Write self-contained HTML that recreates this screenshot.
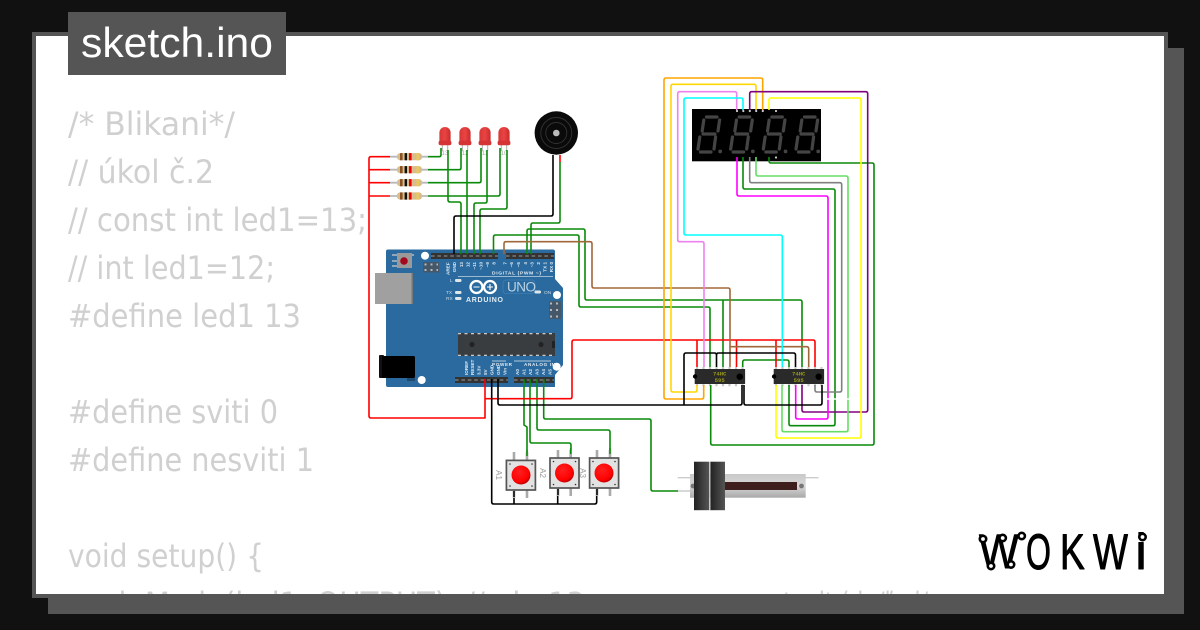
<!DOCTYPE html>
<html lang="en"><head><meta charset="utf-8"><title>sketch.ino</title>
<style>html,body{margin:0;padding:0;background:#111}svg{display:block}</style></head>
<body>
<svg xmlns="http://www.w3.org/2000/svg" width="1200" height="630" viewBox="0 0 1200 630">
<defs>
<clipPath id="c"><rect x="36" y="36" width="1128" height="558"/></clipPath>
<linearGradient id="pot" x1="0" y1="0" x2="0" y2="1"><stop offset="0" stop-color="#c8c8c8"/><stop offset=".5" stop-color="#d8d8d8"/><stop offset="1" stop-color="#a8a8a8"/></linearGradient>
<linearGradient id="h" x1="0" y1="0" x2="1" y2="0"><stop offset="0" stop-color="#222"/><stop offset="1" stop-color="#555"/></linearGradient>
<radialGradient id="btn" cx=".4" cy=".35" r=".7"><stop offset="0" stop-color="#ff2020"/><stop offset=".75" stop-color="#f00"/><stop offset="1" stop-color="#a00"/></radialGradient>
<linearGradient id="led" x1="0" y1="0" x2="1" y2="0"><stop offset="0" stop-color="#d93636"/><stop offset=".5" stop-color="#e84444"/><stop offset="1" stop-color="#cc2a2a"/></linearGradient>
<g id="dig" fill="none" stroke="#444" stroke-width="3.2" stroke-linecap="round">
<path d="M706.5 117H717M703.8 120L702.2 131M719.6 120L718 131M703 134H715M699.8 137L698 149M715.6 137L714 149M700.5 152H711"/>
<rect x="718.4" y="149.6" width="3.6" height="3.6" rx="1.2" fill="#444" stroke="none"/>
</g>
<g id="res">
<path d="M390 0H428" stroke="#b8b8b8" stroke-width="1.8"/>
<rect x="397" y="-3.6" width="25" height="7.2" rx="3" fill="#d8bd8e"/>
<rect x="400" y="-3.6" width="2.6" height="7.2" fill="#8a5224"/>
<rect x="404.6" y="-3.6" width="2.4" height="7.2" fill="#111"/>
<rect x="409" y="-3.6" width="2.6" height="7.2" fill="#e00"/>
<rect x="416.4" y="-3.6" width="2.6" height="7.2" fill="#e8c860"/>
</g>
<g id="ledg">
<path d="M-2.6 17V24M2.6 17V24" stroke="#bbb" stroke-width="1.3" fill="none"/>
<path d="M-5.6 17V5.6A5.6 5.6 0 0 1 5.6 5.6V17Z" fill="url(#led)"/>
<rect x="-6.4" y="13.6" width="12.8" height="4.6" rx="2" fill="#d63434"/>
</g>
<g id="chip">
<rect x="0" y="0" width="50.4" height="15" fill="#2a2a2a"/>
<path d="M2.3 -2V0M8.8 -2V0M15.3 -2V0M21.8 -2V0M28.3 -2V0M34.8 -2V0M41.3 -2V0M47.8 -2V0" stroke="#c8c8c8" stroke-width="2.2"/>
<path d="M2.3 15V17.2M8.8 15V17.2M15.3 15V17.2M21.8 15V17.2M28.3 15V17.2M34.8 15V17.2M41.3 15V17.2M47.8 15V17.2" stroke="#c8c8c8" stroke-width="2.2"/>
<circle cx="45" cy="7.7" r="3.2" fill="#000"/><circle cx="0.4" cy="7.5" r="2.2" fill="#000"/>
<text x="25" y="6.6" font-size="5.6" font-weight="bold" text-anchor="middle" fill="#9a9a18" font-family="Liberation Mono, monospace">74HC</text>
<text x="25" y="12.8" font-size="5.6" font-weight="bold" text-anchor="middle" fill="#9a9a18" font-family="Liberation Mono, monospace">595</text>
</g>
</defs>

<rect width="1200" height="630" fill="#111"/>
<rect x="48" y="48" width="1136" height="566" fill="#555"/>
<rect x="32" y="32" width="1136" height="566" fill="#555"/>
<rect x="36" y="36" width="1128" height="558" fill="#fff"/>

<g clip-path="url(#c)" fill="#d0d0d0" font-family="DejaVu Sans, Liberation Sans, sans-serif" font-size="32">
<text x="68" y="135" textLength="167" lengthAdjust="spacingAndGlyphs">/* Blikani*/</text>
<text x="68" y="183" textLength="146" lengthAdjust="spacingAndGlyphs">// úkol č.2</text>
<text x="68" y="231" textLength="299" lengthAdjust="spacingAndGlyphs">// const int led1=13;</text>
<text x="68" y="279" textLength="207" lengthAdjust="spacingAndGlyphs">// int led1=12;</text>
<text x="68" y="327" textLength="233" lengthAdjust="spacingAndGlyphs">#define led1 13</text>
<text x="68" y="423" textLength="210" lengthAdjust="spacingAndGlyphs">#define sviti 0</text>
<text x="68" y="471" textLength="246" lengthAdjust="spacingAndGlyphs">#define nesviti 1</text>
<text x="68" y="567" textLength="196" lengthAdjust="spacingAndGlyphs">void setup() {</text>
<text x="100" y="615" textLength="485" lengthAdjust="spacingAndGlyphs">pinMode(led1, OUTPUT);  // pin 13</text>
<text x="744" y="615" textLength="184" lengthAdjust="spacingAndGlyphs">nastavit (do/ľed/</text>
</g>

<rect x="68" y="12" width="218" height="63" fill="#555"/>
<text x="81" y="57" fill="#fff" font-family="Liberation Sans, sans-serif" font-size="42" textLength="192" lengthAdjust="spacingAndGlyphs">sketch.ino</text>

<!-- Arduino board -->
<path d="M388 249.5H553Q555 249.5 555 251.5V279L563 288V365L555 375V387H388Q386 387 386 385V251.5Q386 249.5 388 249.5Z" fill="#2a6a9e"/>
<rect x="375" y="273" width="38" height="31" fill="#a0a0a0"/><rect x="411.5" y="273" width="1.5" height="31" fill="#777"/>
<rect x="379" y="355" width="5" height="23" rx="1" fill="#111"/><rect x="382" y="356" width="33" height="22" rx="1.5" fill="#000"/><rect x="407" y="378" width="8" height="3" fill="#1d4a6e"/>
<rect x="397" y="253" width="15" height="15" fill="#9a9a9a"/><circle cx="404" cy="261" r="3.8" fill="#a5081c"/>
<path d="M392 255H397M392 261H397M392 266H397M412 255H414" stroke="#ccc" stroke-width="1.3"/>
<g fill="#fff"><circle cx="425" cy="255.7" r="4"/><circle cx="557" cy="295" r="4"/><circle cx="556.7" cy="366.7" r="4"/><circle cx="421.7" cy="380" r="4"/></g>
<g fill="#333"><rect x="431" y="253" width="67" height="6"/><rect x="506" y="253" width="48" height="6"/><rect x="455" y="377" width="53" height="6"/><rect x="514" y="377" width="40" height="6"/></g>
<path d="M431 256H498M506 256H554M455 380H508M514 380H554" stroke="#666" stroke-width="2" stroke-dasharray="3.6 2.8"/>
<g fill="#44586a"><rect x="423" y="262" width="16" height="10.5"/><rect x="549" y="301" width="12" height="18"/></g>
<path d="M424.5 264.5H438M424.5 270H438M550 303.5H560M550 310H560M550 316.5H560" stroke="#b9b9b9" stroke-width="2" stroke-dasharray="2 4"/>
<rect x="458" y="333" width="97" height="23" fill="#3a3d40"/>
<path d="M458 333.7H555M458 355.3H555" stroke="#ddd" stroke-width="1.1" stroke-dasharray="3 3.5"/>
<circle cx="472" cy="344.5" r="2.6" fill="#222"/><circle cx="541" cy="344.5" r="2.6" fill="#222"/><rect x="552" y="341" width="3" height="7" fill="#222"/>
<path d="M458 276.7H553M492 361H506M514 361H551" stroke="#dfe9f2" stroke-width=".7" fill="none"/>
<rect x="503" y="280" width="32" height="13.5" rx="3" fill="none" stroke="#3f7fb2" stroke-width=".8"/>
<text x="507" y="291.5" font-family="Liberation Sans, sans-serif" font-size="13.5" fill="#b9d2e6" textLength="29">UNO</text>
<g fill="none" stroke="#fff" stroke-width="2.3"><circle cx="476.5" cy="287" r="6"/><circle cx="490" cy="287" r="6"/></g>
<path d="M473.5 287H479.5M487 287H493M490 284V290" stroke="#fff" stroke-width="1.1"/>
<g font-family="Liberation Sans, sans-serif" fill="#e4edf5" font-weight="bold">
<text x="466" y="302" font-size="7" textLength="37">ARDUINO</text>
<text x="492" y="274.5" font-size="4.9" textLength="49">DIGITAL (PWM ~)</text>
<text x="492" y="366" font-size="4.6" textLength="20">POWER</text>
<text x="524" y="366" font-size="4.6" textLength="31">ANALOG IN</text>
</g>
<g font-family="Liberation Sans, sans-serif" fill="#c9d8e6" font-size="4.8">
<text x="450" y="282">L</text><text x="446" y="294">TX</text><text x="446" y="300">RX</text><text x="544" y="294">ON</text>
</g>
<g fill="#dfe6ea"><rect x="455" y="279" width="6.5" height="3" rx="1.2"/><rect x="455" y="291" width="6.5" height="3" rx="1.2"/><rect x="455" y="297" width="6.5" height="3" rx="1.2"/><rect x="534.5" y="290.5" width="6.5" height="3" rx="1.2"/></g>
<g font-family="Liberation Sans, sans-serif" fill="#dfe9f2" font-size="4.6" font-weight="bold" text-anchor="end">
<text transform="translate(449.5,262) rotate(-90)" text-anchor="start" x="-13">AREF</text>
<text transform="translate(456,262) rotate(-90)" text-anchor="end">GND</text>
<text transform="translate(463,262) rotate(-90)">13</text>
<text transform="translate(469.5,262) rotate(-90)">12</text>
<text transform="translate(476,262) rotate(-90)">~11</text>
<text transform="translate(482.5,262) rotate(-90)">~10</text>
<text transform="translate(489,262) rotate(-90)">~9</text>
<text transform="translate(495.5,262) rotate(-90)">8</text>
<text transform="translate(506.5,262) rotate(-90)">7</text>
<text transform="translate(513,262) rotate(-90)">~6</text>
<text transform="translate(520,262) rotate(-90)">~5</text>
<text transform="translate(527,262) rotate(-90)">4</text>
<text transform="translate(533.5,262) rotate(-90)">~3</text>
<text transform="translate(540,262) rotate(-90)">2</text>
<text transform="translate(546.5,262) rotate(-90)">TX 1</text>
<text transform="translate(553,262) rotate(-90)">RX 0</text>
<g text-anchor="start">
<text transform="translate(468,375) rotate(-90)">IOREF</text>
<text transform="translate(474,375) rotate(-90)">RESET</text>
<text transform="translate(480.5,375) rotate(-90)">3.3V</text>
<text transform="translate(487,375) rotate(-90)">5V</text>
<text transform="translate(493.5,375) rotate(-90)">GND</text>
<text transform="translate(500,375) rotate(-90)">GND</text>
<text transform="translate(506.5,375) rotate(-90)">Vin</text>
<text transform="translate(519,375) rotate(-90)">A0</text>
<text transform="translate(525.5,375) rotate(-90)">A1</text>
<text transform="translate(532,375) rotate(-90)">A2</text>
<text transform="translate(538.5,375) rotate(-90)">A3</text>
<text transform="translate(545,375) rotate(-90)">A4</text>
<text transform="translate(551.5,375) rotate(-90)">A5</text>
</g>
</g>

<!-- Seven-segment display -->
<rect x="692" y="109" width="129" height="52.3" fill="#000"/>
<use href="#dig"/><use href="#dig" x="32.67"/><use href="#dig" x="65.33"/><use href="#dig" x="98"/>
<g fill="#ccc"><circle cx="737" cy="111" r="1.1"/><circle cx="743.3" cy="111" r="1.1"/><circle cx="749.8" cy="111" r="1.1"/><circle cx="756.2" cy="111" r="1.1"/><circle cx="762.8" cy="111" r="1.1"/><circle cx="776" cy="111" r="1.1"/><circle cx="776" cy="157.5" r="1.1"/></g>

<!-- Resistors, LEDs, buzzer -->
<use href="#res" y="156.7"/><use href="#res" y="169.7"/><use href="#res" y="182.7"/><use href="#res" y="196"/>
<use href="#ledg" x="445" y="127"/><use href="#ledg" x="465" y="127"/><use href="#ledg" x="485" y="127"/><use href="#ledg" x="504" y="127"/>
<g font-family="Liberation Sans, sans-serif" font-size="6" fill="#aaa" text-anchor="middle">
<text x="445" y="155">13</text><text x="465" y="155">12</text><text x="485" y="155">11</text><text x="504" y="155">10</text>
</g>
<circle cx="556.3" cy="133" r="21.7" fill="#0a0a0a"/>
<circle cx="556.3" cy="133" r="15.5" fill="none" stroke="#333" stroke-width=".9"/>
<circle cx="556.3" cy="133" r="10.5" fill="none" stroke="#333" stroke-width=".9"/>
<circle cx="556.3" cy="133" r="3.3" fill="#bbb"/>

<!-- Chips -->
<use href="#chip" x="694.7" y="369"/><use href="#chip" x="773.7" y="369"/>

<!-- Wires -->
<g fill="none" stroke-width="1.6" stroke-linejoin="round">
<g stroke="#0a8a0a">
<path d="M428 156.7H439Q441 156.7 441 154.7V148"/>
<path d="M428 169.7H459Q461 169.7 461 167.7V148"/>
<path d="M428 182.7H479Q481 182.7 481 180.7V148"/>
<path d="M428 196H498Q500 196 500 194V148"/>
<path d="M448 150V200Q448 202 450 202H459Q461 202 461 204V254"/>
<path d="M467 150V254"/>
<path d="M487 150V201Q487 203 485 203H476Q474 203 474 205V254"/>
<path d="M507 150V207Q507 209 505 209H482Q480 209 480 211V254"/>
<path d="M560 162V221Q560 223 558 223H533Q531 223 531 225V254"/>
<path d="M527 254V231Q527 229 529 229H583Q585 229 585 231V298Q585 300 587 300H800Q802 300 802 302V367"/>
<path d="M723 367V300"/>
<path d="M493.5 254V237Q493.5 235 495.5 235H577Q579 235 579 237V305Q579 307 581 307H708Q710 307 710 309V367"/>
<path d="M742.7 367V362Q742.7 360 744.7 360H787Q789 360 789 362V367"/>
<path d="M524 379V425L527 427V452"/>
<path d="M530 379V441Q530 443 532 443H569Q571 443 571 445V452"/>
<path d="M537 379V428Q537 430 539 430H608Q610 430 610 432V452"/>
<path d="M543.7 379V417Q543.7 419 545.7 419H649Q651 419 651 421V489Q651 491 653 491H678"/>
<path d="M769 157V161Q769 163 771 163H872Q874 163 874 165V443Q874 445 872 445H712.7Q710.7 445 710.7 443V385"/>
<path d="M743 157V187Q743 189 745 189H833Q835 189 835 191V423.7Q835 425.7 833 425.7H791Q789 425.7 789 423.7V385"/>
</g>
<g stroke="#f00">
<path d="M390 156.7H371Q369 156.7 369 158.7V416Q369 418 371 418H485V379"/>
<path d="M390 169.7H369M390 182.7H369M390 196H369"/>
<path d="M485 398.7H570Q572 398.7 572 396.7V342Q572 340 574 340H813Q815 340 815 342V367"/>
<path d="M697 367V340M736.5 367V340M776 367V340"/>
<path d="M560 155V162"/>
</g>
<path stroke="#a0683a" d="M504 254V243.7Q504 241.7 506 241.7H590Q592 241.7 592 243.7V286Q592 288 594 288H728Q730 288 730 290V367"/>
<path stroke="#a0683a" d="M730 346.7H806.7Q808.7 346.7 808.7 348.7V367"/>
<path stroke="#ffa500" d="M703.7 385V397Q703.7 399 701.7 399H666Q664 399 664 397V80Q664 78 666 78H760.7Q762.7 78 762.7 80V110"/>
<path stroke="#ffd700" d="M697 385V390Q697 392 695 392H673Q671 392 671 390V86.3Q671 84.3 673 84.3H754Q756 84.3 756 86.3V110"/>
<path stroke="#ee82ee" d="M704 367V243.7Q704 241.7 702 241.7H679.7Q677.7 241.7 677.7 239.7V93.7Q677.7 91.7 679.7 91.7H734.7Q736.7 91.7 736.7 93.7V110"/>
<path stroke="#00ffff" d="M782.3 367V237Q782.3 235 780.3 235H686Q684 235 684 233V100Q684 98 686 98H741Q743 98 743 100V110"/>
<path stroke="#800080" d="M749.7 110V93.7Q749.7 91.7 751.7 91.7H865.7Q867.7 91.7 867.7 93.7V410Q867.7 412 865.7 412H804Q802 412 802 410V385"/>
<path stroke="#ffff00" d="M769 110V100Q769 98 771 98H859Q861 98 861 100V436Q861 438 859 438H778Q776 438 776 436V385"/>
<path stroke="#ff00ff" d="M737 157V194Q737 196 739 196H826Q828 196 828 198V417Q828 419 826 419H797.7Q795.7 419 795.7 417V385"/>
<path stroke="#808080" d="M749.7 157V180.7Q749.7 182.7 751.7 182.7H839.7Q841.7 182.7 841.7 184.7V390Q841.7 392 839.7 392H817Q815 392 815 390V385"/>
<path stroke="#66dd66" d="M756 157V174Q756 176 758 176H846Q848 176 848 178V429.7Q848 431.7 846 431.7H784Q782 431.7 782 429.7V385"/>
<g stroke="#000">
<path d="M454 254V218Q454 216 456 216H551Q553 216 553 214V155"/>
<path d="M491.7 379V502Q491.7 504 493.7 504H594.7Q596.7 504 596.7 502V495"/>
<path d="M514 495V504M557.7 495V504"/>
<path d="M498 379V403Q498 405 500 405H740Q742 405 742 403V385"/>
<path d="M684 405V355Q684 353 686 353H714.5Q716.5 353 716.5 355V367"/>
<path d="M716.5 355Q716.5 353 718.5 353H793.5Q795.5 353 795.5 355V367"/>
<path d="M744 385V403Q744 405 746 405H820Q822 405 822 403V385"/>
</g>
<path stroke="#fff" d="M826 399H851"/>
</g>

<!-- Pushbuttons -->
<g id="btns">
<path d="M514 452V460M527 452V460M514 490V498M527 490V498M558 450V458M570.7 450V458M558 488V496M570.7 488V496M597 450V458M610 450V458M597 488V496M610 488V496" stroke="#aaa" stroke-width="2.6" fill="none"/>
<path d="M514 491V497M558 489V495M597 489V495" stroke="#000" stroke-width="1.5"/>
<path d="M527 450V456M570.7 448V454M610 448V454" stroke="#0a8a0a" stroke-width="1.5"/>
<g fill="#e2e2e2" stroke="#555" stroke-width="1.7">
<rect x="506.4" y="460.4" width="29" height="29.6"/><rect x="550" y="458" width="29" height="30"/><rect x="589.6" y="458" width="29" height="30"/>
</g>
<g fill="url(#btn)"><circle cx="521" cy="475" r="9.5"/><circle cx="564.5" cy="473" r="9.5"/><circle cx="604" cy="473" r="9.5"/></g>
<g fill="#333">
<circle cx="510" cy="464" r=".8"/><circle cx="532" cy="464" r=".8"/><circle cx="510" cy="486" r=".8"/><circle cx="532" cy="486" r=".8"/>
<circle cx="553.5" cy="461.5" r=".8"/><circle cx="575.5" cy="461.5" r=".8"/><circle cx="553.5" cy="484.5" r=".8"/><circle cx="575.5" cy="484.5" r=".8"/>
<circle cx="593" cy="461.5" r=".8"/><circle cx="615" cy="461.5" r=".8"/><circle cx="593" cy="484.5" r=".8"/><circle cx="615" cy="484.5" r=".8"/>
</g>
<g font-family="Liberation Sans, sans-serif" font-size="8" fill="#999" text-anchor="middle">
<text transform="translate(499,475) rotate(90)" y="3">A1</text>
<text transform="translate(543,473) rotate(90)" y="3">A2</text>
<text transform="translate(583,473) rotate(90)" y="3">A3</text>
</g>
</g>

<!-- Slide potentiometer -->
<path d="M677.7 477.7H690M678 491H690M805 477.7H818.5" stroke="#ccc" stroke-width="1.4"/>
<rect x="690" y="474" width="115.7" height="23.7" fill="url(#pot)"/>
<rect x="725" y="482" width="72" height="8" fill="#3f1f1d"/>
<circle cx="801.5" cy="486" r="2.4" fill="#777"/><circle cx="693" cy="486" r="2.4" fill="#777"/>
<rect x="694" y="461.7" width="15.3" height="48.5" fill="url(#h)"/>
<rect x="710.3" y="461.7" width="14.7" height="48.5" fill="url(#h)"/>
<rect x="709.3" y="461.7" width="1" height="48.5" fill="#ddd"/>

<!-- Logo -->
<g fill="#000" stroke="#000" stroke-width="1" stroke-linejoin="round" font-family="Liberation Sans, sans-serif" font-size="50">
<text transform="translate(979,568) scale(.84,.96)">W</text>
<text transform="translate(1026,569) scale(.64,1)">O</text>
<text transform="translate(1060,569) scale(.74,1)">K</text>
<text transform="translate(1093,569) scale(.74,1)">W</text>
<text transform="translate(1135.5,569)">i</text>
</g>
<g fill="#fff" stroke="#000" stroke-width="2.6">
<circle cx="983" cy="539" r="3.2"/><circle cx="1002.7" cy="538" r="3.2"/><circle cx="1021.7" cy="536" r="3.2"/><circle cx="991" cy="566" r="3.2"/><circle cx="1011" cy="564.5" r="3.2"/><circle cx="1142.5" cy="537" r="3.2"/>
</g>
</svg>
</body></html>
